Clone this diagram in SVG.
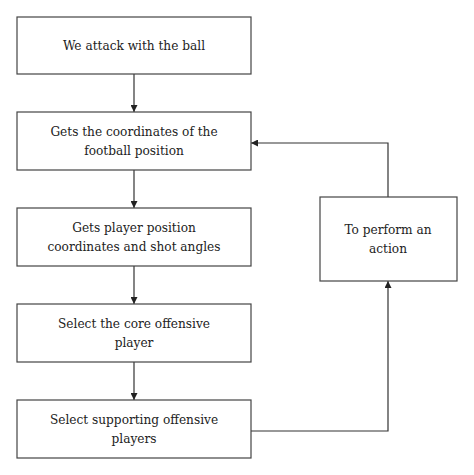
<svg xmlns="http://www.w3.org/2000/svg" width="474" height="475" viewBox="0 0 474 475">
<style>
.box{fill:#fff;stroke:#444;stroke-width:1.2}
.t{font-family:'DejaVu Serif Condensed','DejaVu Serif',serif;font-stretch:condensed;font-size:13.5px;fill:#222;text-anchor:middle}
.c{fill:none;stroke:#333;stroke-width:1.2}
</style>
<defs>
<marker id="ah" viewBox="0 0 10 10" refX="10" refY="5" markerWidth="7" markerHeight="7" orient="auto" markerUnits="userSpaceOnUse">
<path d="M0,0 L10,5 L0,10 z" fill="#222"/>
</marker>
</defs>
<rect width="474" height="475" fill="#fff"/>
<g id="connectors">
<line class="c" x1="134" y1="74" x2="134" y2="112" marker-end="url(#ah)"/>
<line class="c" x1="134" y1="170" x2="134" y2="208" marker-end="url(#ah)"/>
<line class="c" x1="134" y1="266" x2="134" y2="304" marker-end="url(#ah)"/>
<line class="c" x1="134" y1="362" x2="134" y2="400" marker-end="url(#ah)"/>
<polyline class="c" points="251,431 388,431 388,281" marker-end="url(#ah)"/>
<polyline class="c" points="388,197 388,143 251,143" marker-end="url(#ah)"/>
</g>
<g id="n1"><rect class="box" x="17" y="17" width="234" height="57"/><text class="t" x="134" y="50">We attack with the ball</text></g>
<g id="n2"><rect class="box" x="17" y="112" width="234" height="58"/><text class="t" x="134" y="136">Gets the coordinates of the</text><text class="t" x="134" y="155">football position</text></g>
<g id="n3"><rect class="box" x="17" y="208" width="234" height="58"/><text class="t" x="134" y="232">Gets player position</text><text class="t" x="134" y="251">coordinates and shot angles</text></g>
<g id="n4"><rect class="box" x="17" y="304" width="234" height="58"/><text class="t" x="134" y="328">Select the core offensive</text><text class="t" x="134" y="347">player</text></g>
<g id="n5"><rect class="box" x="17" y="400" width="234" height="58"/><text class="t" x="134" y="424">Select supporting offensive</text><text class="t" x="134" y="443">players</text></g>
<g id="n6"><rect class="box" x="320" y="197" width="137" height="84"/><text class="t" x="388" y="234">To perform an</text><text class="t" x="388" y="253">action</text></g>
</svg>
